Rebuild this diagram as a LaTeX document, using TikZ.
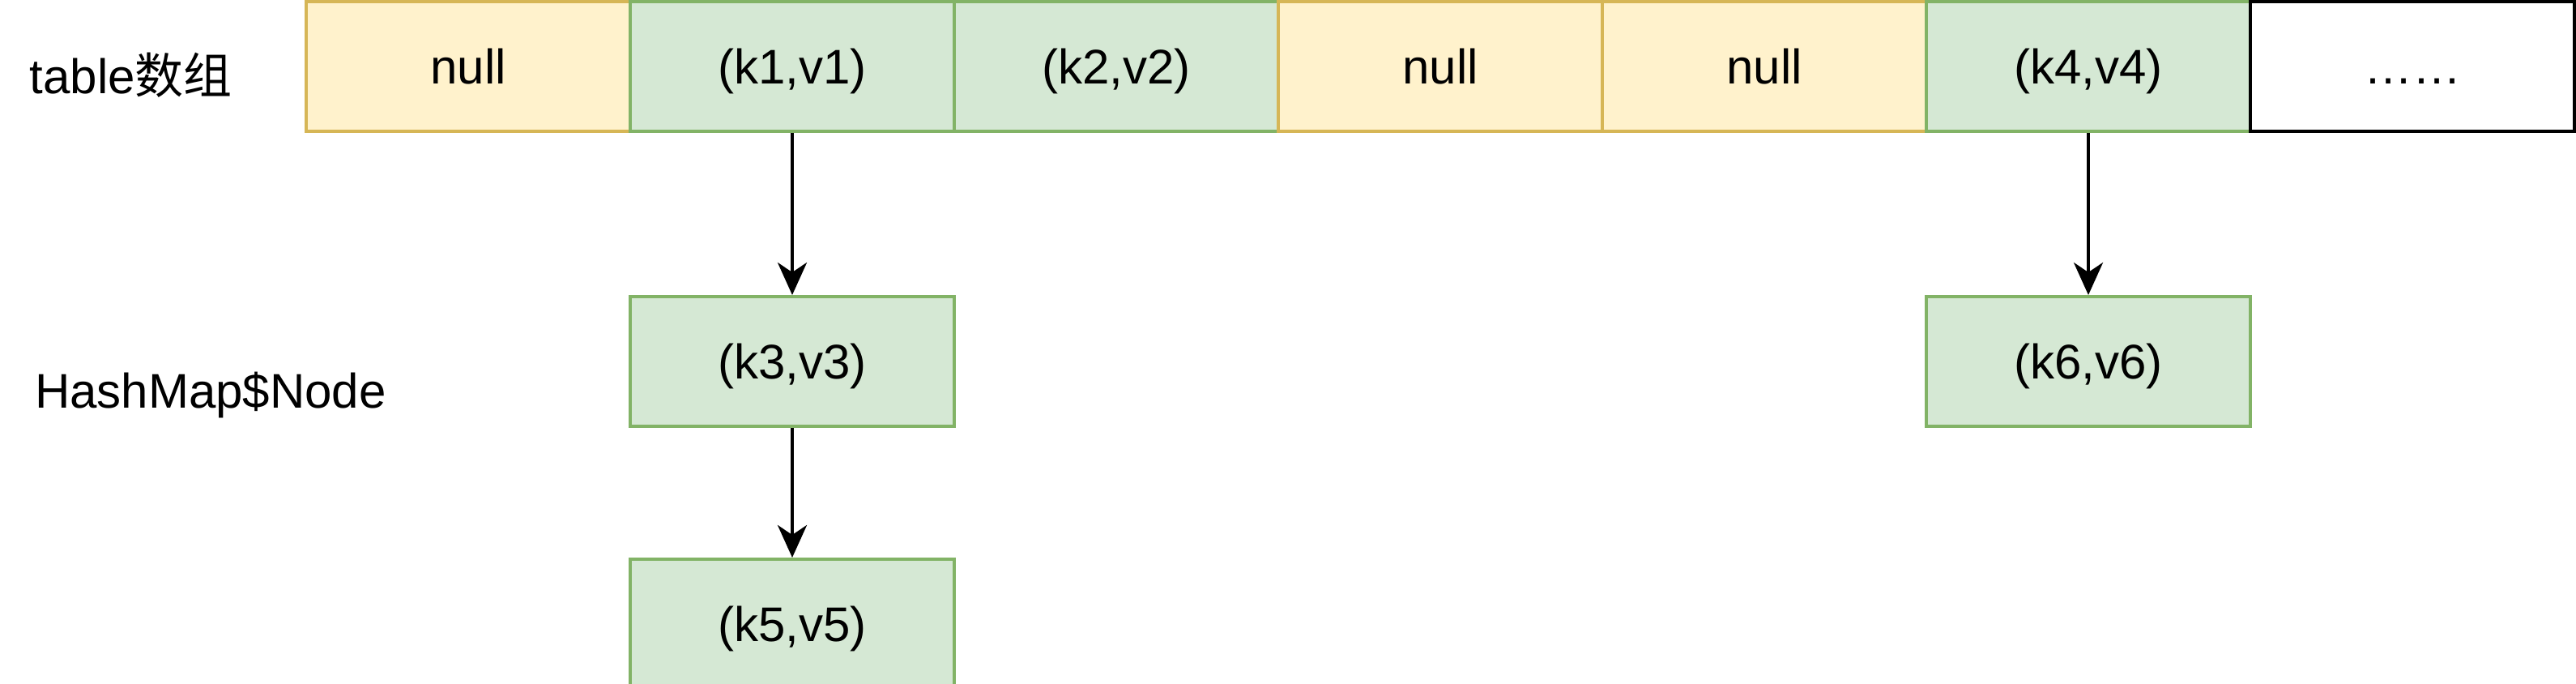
\documentclass[tikz,border=0pt]{standalone}
\usepackage{fontspec}
\setmainfont{Liberation Sans}
\newfontfamily\cjk{Noto Sans CJK SC}
\usetikzlibrary{positioning,arrows.meta}
\definecolor{nullfill}{HTML}{FFF2CC}
\definecolor{nullline}{HTML}{D6B656}
\definecolor{kvfill}{HTML}{D5E8D4}
\definecolor{kvline}{HTML}{82B366}
\begin{document}
\begin{tikzpicture}[x=1pt,y=1pt,
		every node/.style={font=\fontsize{15}{18}\selectfont},
		cell/.style={rectangle, minimum width=100pt, minimum height=40pt, inner sep=0pt,
				text height=10.75pt, text depth=0pt, line width=1pt},
		cellnull/.style={cell, draw=nullline, fill=nullfill},
		cellkv/.style={cell, draw=kvline, fill=kvfill},
		cellmore/.style={cell, draw=black, fill=white},
		lbl/.style={anchor=base west, inner sep=0pt},
		arr/.style={-{Stealth[length=10pt,width=9pt,inset=3pt]}, line width=1pt},
	]
	\useasboundingbox (0,0) rectangle (795,-211);
	% table cells
	\foreach \i/\s/\t in {1/cellnull/null, 2/cellkv/(k1{,}v1), 3/cellkv/(k2{,}v2), 4/cellnull/null,
			5/cellnull/null, 6/cellkv/(k4{,}v4), 7/cellmore/……}
		{ \node[\s] (c\i) at (44.5+100*\i,-20.5) {\t}; }

	% nodes in the buckets
	\node[cellkv, below=50pt of c2] (k3) {(k3,v3)};
	\node[cellkv, below=40pt of k3] (k5) {(k5,v5)};
	\node[cellkv, below=50pt of c6] (k6) {(k6,v6)};

	\node[lbl] (tbl) at (9,-29) {table{\cjk 数组}};
	\node[lbl] (hm) at (10.6,-126) {HashMap\$Node};

	\draw[arr] (c2) -- (k3);
	\draw[arr] (k3) -- (k5);
	\draw[arr] (c6) -- (k6);
\end{tikzpicture}
\end{document}
